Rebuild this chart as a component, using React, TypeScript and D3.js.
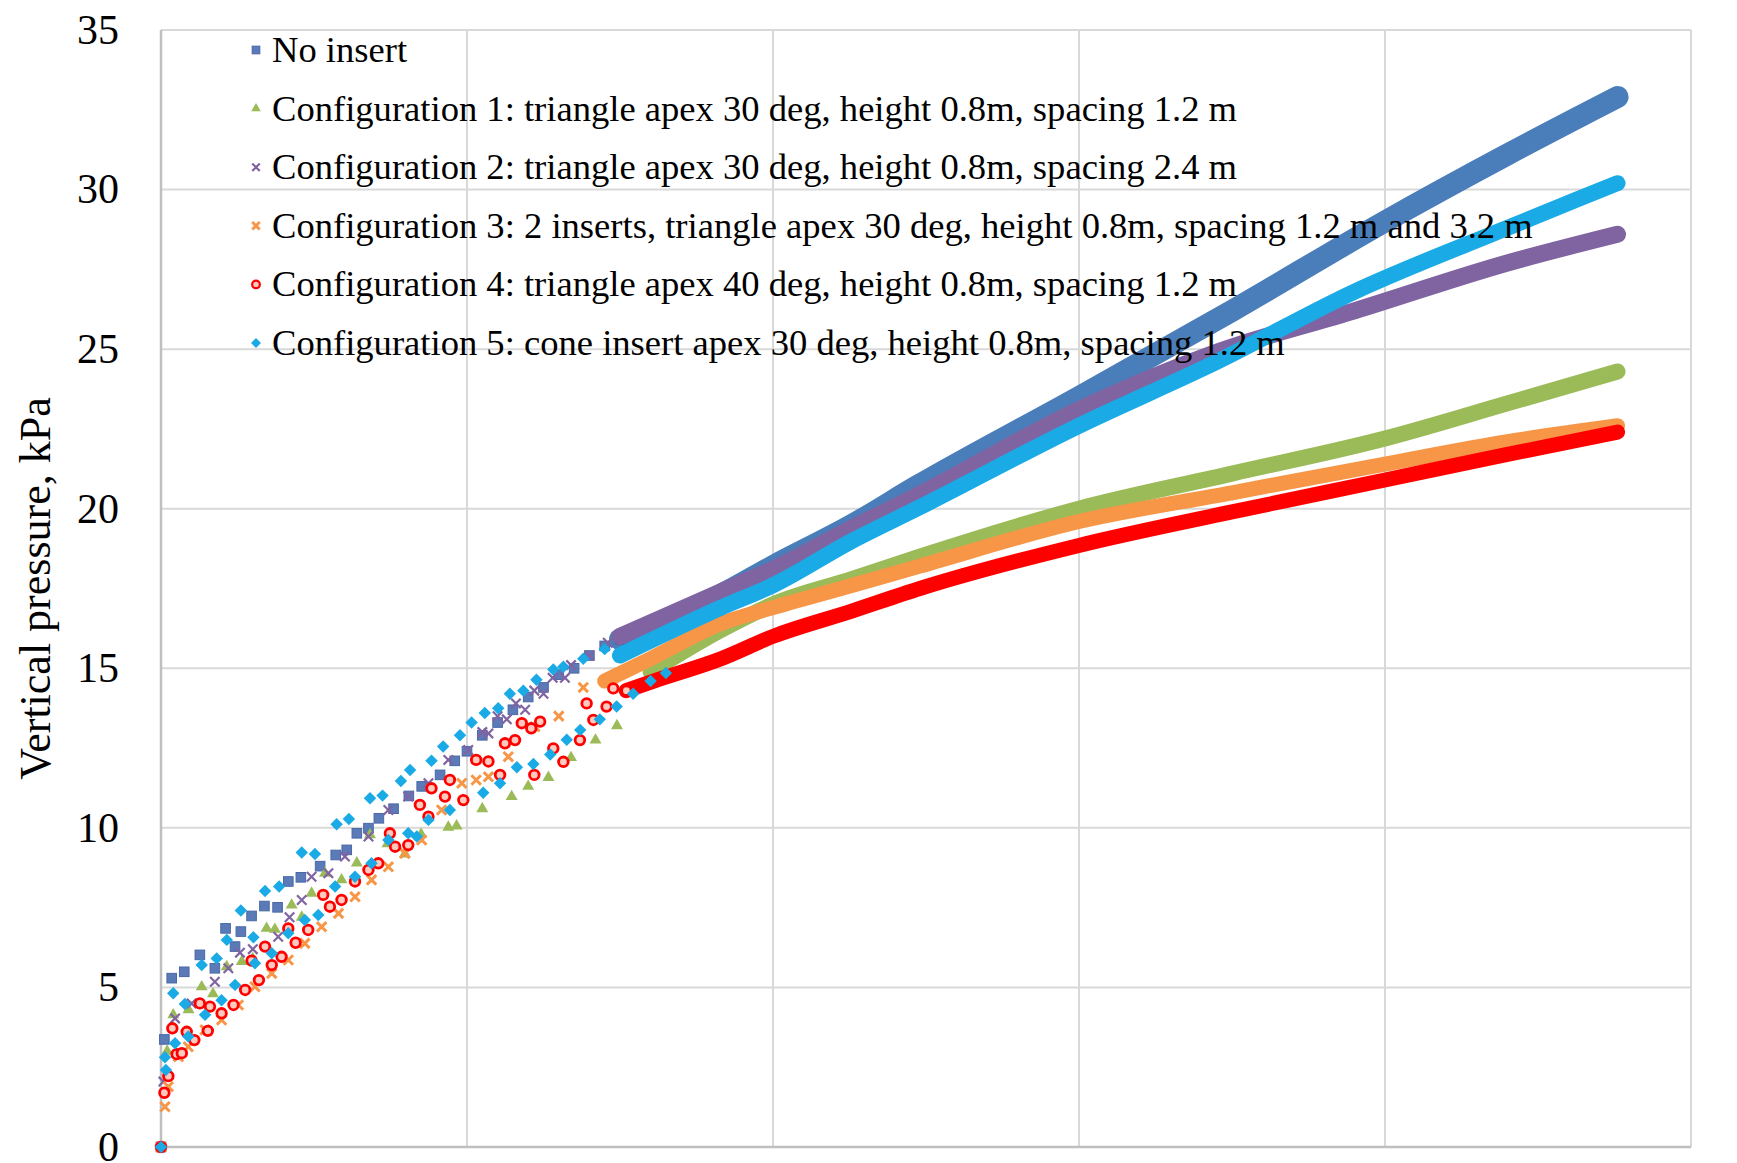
import { useEffect, useRef } from "react";
import * as d3 from "d3";

type Pt = [number, number];

// ---- Axis values ---------------------------------------------------------
const yTicks = [0, 5, 10, 15, 20, 25, 30, 35];
const xGrid = [0, 1, 2, 3, 4, 5]; // x axis has no labels in the source

const seriesNames = [
  "No insert",
  "Configuration 1: triangle apex 30 deg, height 0.8m, spacing 1.2 m",
  "Configuration 2: triangle apex 30 deg, height 0.8m, spacing 2.4 m",
  "Configuration 3: 2 inserts, triangle apex 30 deg, height 0.8m, spacing 1.2 m and 3.2 m",
  "Configuration 4: triangle apex 40 deg, height 0.8m, spacing 1.2 m",
  "Configuration 5: cone insert apex 30 deg, height 0.8m, spacing 1.2 m",
];

// ---- Sparse early readings (individual markers) --------------------------
const noInsertScatter: Pt[] = [
  [0, 0], [0.011, 3.37], [0.035, 5.29], [0.076, 5.49], [0.127, 6.02], [0.176, 5.6],
  [0.211, 6.85], [0.242, 6.28], [0.261, 6.75], [0.296, 7.24], [0.338, 7.55], [0.381, 7.51],
  [0.416, 8.32], [0.457, 8.45], [0.52, 8.8], [0.571, 9.15], [0.607, 9.31], [0.64, 9.83],
  [0.678, 9.99], [0.712, 10.3], [0.76, 10.6], [0.81, 11.0], [0.852, 11.3], [0.912, 11.66],
  [0.96, 12.1], [1.0, 12.4], [1.05, 12.9], [1.1, 13.3], [1.15, 13.7], [1.2, 14.1],
  [1.25, 14.4], [1.3, 14.8], [1.35, 15.0], [1.4, 15.4], [1.45, 15.7], [1.5, 15.9],
];
const config1Scatter: Pt[] = [
  [0, 0], [0.02, 3.0], [0.04, 4.14], [0.09, 4.3], [0.133, 5.02], [0.17, 4.8],
  [0.215, 5.65], [0.264, 5.81], [0.3, 5.9], [0.345, 6.85], [0.372, 6.82], [0.427, 7.58],
  [0.46, 7.2], [0.492, 7.95], [0.536, 8.58], [0.59, 8.37], [0.64, 8.9], [0.683, 9.78],
  [0.74, 9.5], [0.797, 9.18], [0.85, 9.8], [0.939, 10.02], [0.966, 10.06], [1.05, 10.6],
  [1.146, 10.98], [1.2, 11.3], [1.266, 11.58], [1.34, 12.2], [1.42, 12.75], [1.49, 13.2],
];
const config2Scatter: Pt[] = [
  [0, 0], [0.008, 2.05], [0.046, 4.03], [0.1, 4.5], [0.176, 5.18], [0.22, 5.6],
  [0.258, 6.09], [0.3, 6.2], [0.383, 6.59], [0.42, 7.2], [0.46, 7.74], [0.492, 8.47],
  [0.547, 8.58], [0.601, 9.1], [0.678, 9.73], [0.743, 10.56], [0.808, 10.98], [0.874, 11.4],
  [0.939, 12.13], [1.004, 12.44], [1.05, 13.0], [1.07, 12.96], [1.1, 13.5], [1.13, 13.4],
  [1.16, 13.9], [1.19, 13.7], [1.22, 14.3], [1.25, 14.2], [1.28, 14.7], [1.32, 14.7],
  [1.34, 15.1], [1.4, 15.4], [1.46, 15.8], [1.5, 16.0],
];
const config3Scatter: Pt[] = [
  [0, 0], [0.013, 1.26], [0.024, 1.89], [0.057, 2.83], [0.089, 3.14], [0.144, 3.67],
  [0.198, 3.98], [0.253, 4.45], [0.307, 5.02], [0.362, 5.44], [0.416, 5.86], [0.47, 6.38],
  [0.525, 6.9], [0.58, 7.32], [0.634, 7.84], [0.688, 8.37], [0.743, 8.78], [0.797, 9.2],
  [0.852, 9.62], [0.917, 10.56], [0.983, 11.4], [1.03, 11.5], [1.07, 11.6], [1.135, 12.23],
  [1.222, 13.17], [1.3, 13.5], [1.38, 14.4],
];
const config4Scatter: Pt[] = [
  [0, 0], [0.011, 1.7], [0.024, 2.22], [0.037, 3.72], [0.051, 2.91], [0.068, 2.94],
  [0.084, 3.61], [0.109, 3.35], [0.127, 4.5], [0.153, 3.64], [0.16, 4.4], [0.198, 4.19],
  [0.237, 4.45], [0.275, 4.92], [0.296, 5.84], [0.32, 5.23], [0.34, 6.28], [0.362, 5.7],
  [0.394, 5.96], [0.416, 6.85], [0.44, 6.4], [0.481, 6.8], [0.53, 7.9], [0.552, 7.53],
  [0.59, 7.74], [0.634, 8.32], [0.678, 8.68], [0.71, 8.89], [0.748, 9.83], [0.765, 9.41],
  [0.808, 9.46], [0.846, 10.72], [0.874, 10.35], [0.884, 11.24], [0.928, 10.98], [0.944, 11.5],
  [0.988, 10.87], [1.03, 12.13], [1.07, 12.08], [1.108, 11.66], [1.124, 12.65], [1.157, 12.75],
  [1.179, 13.28], [1.21, 13.12], [1.22, 11.66], [1.239, 13.33], [1.282, 12.49], [1.315, 12.07],
  [1.369, 12.75], [1.391, 13.9], [1.413, 13.38], [1.456, 13.8], [1.478, 14.37], [1.521, 14.3],
];
const config5Scatter: Pt[] = [
  [0, 0], [0.013, 2.81], [0.016, 2.41], [0.04, 4.82], [0.046, 3.25], [0.078, 4.48],
  [0.089, 3.46], [0.133, 5.7], [0.144, 4.14], [0.182, 5.91], [0.198, 4.6], [0.215, 6.49],
  [0.242, 5.08], [0.261, 7.41], [0.302, 6.57], [0.307, 5.76], [0.34, 8.02], [0.362, 6.07],
  [0.386, 8.16], [0.416, 6.7], [0.46, 9.23], [0.47, 7.11], [0.503, 9.18], [0.514, 7.27],
  [0.569, 8.16], [0.574, 10.11], [0.614, 10.28], [0.634, 8.47], [0.683, 10.93], [0.688, 8.89],
  [0.724, 11.01], [0.743, 9.62], [0.784, 11.47], [0.808, 9.83], [0.814, 11.81], [0.836, 9.73],
  [0.874, 10.25], [0.884, 12.1], [0.922, 12.55], [0.944, 10.56], [0.977, 12.9], [1.015, 13.3],
  [1.053, 11.1], [1.058, 13.6], [1.102, 13.75], [1.108, 11.4], [1.14, 14.2], [1.163, 11.9],
  [1.184, 14.3], [1.217, 12.0], [1.227, 14.64], [1.272, 12.3], [1.282, 14.96], [1.315, 15.05],
  [1.326, 12.76], [1.37, 13.07], [1.38, 15.3], [1.434, 13.4], [1.45, 15.6], [1.489, 13.8],
  [1.543, 14.2], [1.6, 14.6], [1.65, 14.85],
];

// ---- Dense later readings (overlapping markers form a band) --------------
const noInsertTrace: Pt[] = [
  [1.5, 15.9], [1.83, 17.3], [2.0, 18.2], [2.26, 19.5], [2.47, 20.7], [3.0, 23.5],
  [3.5, 26.2], [4.0, 29.0], [4.4, 31.1], [4.76, 32.9],
];
const config1Trace: Pt[] = [
  [1.6, 14.9], [1.83, 16.2], [2.0, 17.0], [2.26, 17.8], [2.48, 18.5], [3.0, 20.0],
  [3.5, 21.1], [4.0, 22.2], [4.4, 23.3], [4.76, 24.3],
];
const config2Trace: Pt[] = [
  [1.5, 16.0], [1.83, 17.4], [2.0, 18.1], [2.26, 19.4], [2.47, 20.4], [3.0, 23.1],
  [3.45, 24.9], [3.9, 26.2], [4.4, 27.7], [4.76, 28.6],
];
const config3Trace: Pt[] = [
  [1.45, 14.6], [1.6, 15.3], [1.83, 16.4], [2.0, 16.9], [2.26, 17.6], [2.48, 18.2],
  [3.0, 19.6], [3.5, 20.5], [4.0, 21.4], [4.4, 22.1], [4.76, 22.6],
];
const config4Trace: Pt[] = [
  [1.52, 14.3], [1.61, 14.6], [1.83, 15.3], [2.0, 16.0], [2.26, 16.8], [2.48, 17.5],
  [3.0, 18.85], [3.5, 19.9], [4.0, 20.9], [4.4, 21.7], [4.76, 22.4],
];
const config5Trace: Pt[] = [
  [1.5, 15.4], [1.83, 16.9], [2.0, 17.6], [2.26, 19.0], [2.47, 20.0], [3.0, 22.6],
  [3.45, 24.6], [3.9, 26.8], [4.4, 28.8], [4.63, 29.7], [4.76, 30.2],
];

type Marker = "square" | "triangle" | "x" | "star" | "circle" | "diamond";

const series = [
  { name: seriesNames[0], color: "#4a7ebb", marker: "square" as Marker, scatter: noInsertScatter, trace: noInsertTrace, band: 22 },
  { name: seriesNames[1], color: "#9bbb59", marker: "triangle" as Marker, scatter: config1Scatter, trace: config1Trace, band: 16 },
  { name: seriesNames[2], color: "#8064a2", marker: "x" as Marker, scatter: config2Scatter, trace: config2Trace, band: 17 },
  { name: seriesNames[3], color: "#f79646", marker: "star" as Marker, scatter: config3Scatter, trace: config3Trace, band: 15 },
  { name: seriesNames[4], color: "#ff0000", marker: "circle" as Marker, scatter: config4Scatter, trace: config4Trace, band: 15 },
  { name: seriesNames[5], color: "#1aaae6", marker: "diamond" as Marker, scatter: config5Scatter, trace: config5Trace, band: 16 },
];

const W = 1737;
const H = 1163;
const FONT = "'Liberation Serif', 'Times New Roman', serif";

/** Draws one marker into a group ----------------------------------------- */
function drawMarker(
  g: d3.Selection<SVGGElement, unknown, null, undefined>,
  kind: Marker,
  color: string,
  cx: number,
  cy: number,
  scale = 1,
) {
  const s = scale;
  if (kind === "square") {
    g.append("rect")
      .attr("x", cx - 4.8 * s).attr("y", cy - 4.8 * s)
      .attr("width", 9.6 * s).attr("height", 9.6 * s)
      .attr("fill", "#5a7ab8").attr("stroke", "#4a68a6").attr("stroke-width", 1);
  } else if (kind === "triangle") {
    g.append("path")
      .attr("transform", `translate(${cx},${cy})`)
      .attr("d", d3.symbol(d3.symbolTriangle, 62 * s * s)())
      .attr("fill", color);
  } else if (kind === "x" || kind === "star") {
    g.append("path")
      .attr("transform", `translate(${cx},${cy})`)
      .attr("d", d3.symbol(d3.symbolX, 60 * s * s)())
      .attr("fill", "none").attr("stroke", color).attr("stroke-width", kind === "star" ? 3 : 2.2);
  } else if (kind === "circle") {
    g.append("circle")
      .attr("cx", cx).attr("cy", cy).attr("r", 4.8 * s)
      .attr("fill", "#ffc9bd").attr("stroke", color).attr("stroke-width", 2.8 * s);
  } else {
    g.append("rect")
      .attr("x", -4.4 * s).attr("y", -4.4 * s)
      .attr("width", 8.8 * s).attr("height", 8.8 * s)
      .attr("transform", `translate(${cx},${cy}) rotate(45)`)
      .attr("fill", color);
  }
}

const App = () => {
  const svgRef = useRef<SVGSVGElement | null>(null);

  useEffect(() => {
    const svg = d3.select(svgRef.current);
    svg.selectAll("*").remove();

    const margin = { top: 30, right: 46, bottom: 16, left: 161 };
    const innerW = W - margin.left - margin.right;
    const innerH = H - margin.top - margin.bottom;

    svg.append("rect").attr("width", W).attr("height", H).attr("fill", "#fff");

    const g = svg.append("g").attr("transform", `translate(${margin.left},${margin.top})`);

    const x = d3.scaleLinear().domain([0, 5]).range([0, innerW]);
    const y = d3.scaleLinear().domain([0, 35]).range([innerH, 0]);

    // ----- Grid ---------------------------------------------------------
    g.append("g")
      .selectAll("line")
      .data(yTicks.slice(1))
      .join("line")
      .attr("x1", 0).attr("x2", innerW)
      .attr("y1", (d) => y(d)).attr("y2", (d) => y(d))
      .attr("stroke", "#d9d9d9").attr("stroke-width", 2);

    g.append("g")
      .selectAll("line")
      .data(xGrid.slice(1))
      .join("line")
      .attr("x1", (d) => x(d)).attr("x2", (d) => x(d))
      .attr("y1", 0).attr("y2", innerH)
      .attr("stroke", "#d9d9d9").attr("stroke-width", 2);

    // axis lines
    g.append("line").attr("x1", 0).attr("x2", 0).attr("y1", 0).attr("y2", innerH)
      .attr("stroke", "#bfbfbf").attr("stroke-width", 2.5);
    g.append("line").attr("x1", 0).attr("x2", innerW).attr("y1", innerH).attr("y2", innerH)
      .attr("stroke", "#bfbfbf").attr("stroke-width", 2.5);

    // ----- Y tick labels ------------------------------------------------
    g.append("g")
      .selectAll("text")
      .data(yTicks)
      .join("text")
      .attr("x", -42)
      .attr("y", (d) => y(d))
      .attr("dy", "0.33em")
      .attr("text-anchor", "end")
      .attr("font-family", FONT)
      .attr("font-size", 42)
      .attr("fill", "#000")
      .text((d) => d);

    // ----- Y axis title -------------------------------------------------
    svg.append("text")
      .attr("transform", `translate(50,${margin.top + innerH / 2}) rotate(-90)`)
      .attr("text-anchor", "middle")
      .attr("font-family", FONT)
      .attr("font-size", 44)
      .attr("fill", "#000")
      .text("Vertical pressure, kPa");

    // ----- Series -------------------------------------------------------
    const line = d3
      .line<Pt>()
      .x((d) => x(d[0]))
      .y((d) => y(d[1]))
      .curve(d3.curveMonotoneX);

    series.forEach((s) => {
      const sg = g.append("g");
      sg.append("path")
        .datum(s.trace)
        .attr("fill", "none")
        .attr("stroke", s.color)
        .attr("stroke-width", s.band)
        .attr("stroke-linecap", "round")
        .attr("stroke-linejoin", "round")
        .attr("d", line);
      s.scatter.forEach((p) => drawMarker(sg, s.marker, s.color, x(p[0]), y(p[1])));
    });

    // ----- Legend -------------------------------------------------------
    const legend = svg.append("g").attr("transform", "translate(256,50)");
    series.forEach((s, i) => {
      const row = legend.append("g").attr("transform", `translate(0,${i * 58.6})`);
      drawMarker(row, s.marker, s.color, 0, 0, 0.8);
      row.append("text")
        .attr("x", 16)
        .attr("y", 0)
        .attr("dy", "0.33em")
        .attr("font-family", FONT)
        .attr("font-size", 36.6)
        .attr("fill", "#000")
        .text(s.name);
    });
  }, []);

  return (
    <svg
      ref={svgRef}
      width={W}
      height={H}
      viewBox={`0 0 ${W} ${H}`}
      style={{ position: "absolute", left: 0, top: 0, display: "block" }}
    />
  );
};

export default App;
